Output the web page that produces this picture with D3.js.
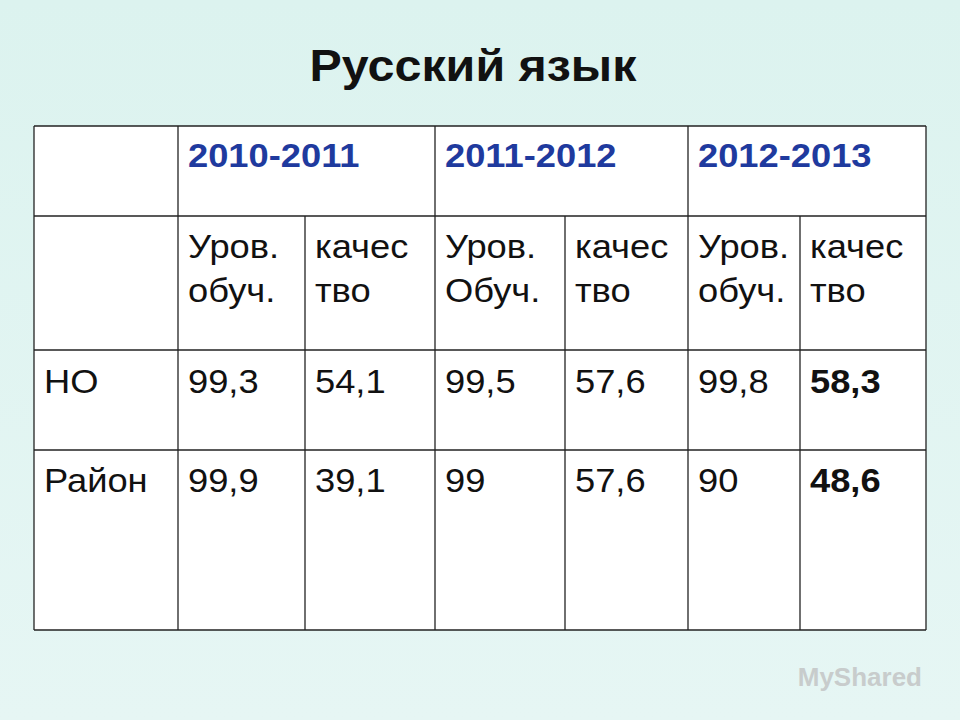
<!DOCTYPE html>
<html><head><meta charset="utf-8">
<script src="https://cdn.jsdelivr.net/npm/d3@7"></script>
<style>body{margin:0;background:#e0f4f1}</style>
</head><body>
<script>
var w = 960, h = 720;

// data
var title = "Русский язык";
var years = ["2010-2011", "2011-2012", "2012-2013"];
var subHeads = [["Уров.", "обуч."], ["качес", "тво"], ["Уров.", "Обуч."], ["качес", "тво"], ["Уров.", "обуч."], ["качес", "тво"]];
var rowNames = ["НО", "Район"];
var rowNO = ["99,3", "54,1", "99,5", "57,6", "99,8", "58,3"];
var rowRayon = ["99,9", "39,1", "99", "57,6", "90", "48,6"];
var rows = [rowNO, rowRayon];

// geometry
var colEdges = [34, 178, 305, 435, 565, 688, 800, 926];
var rowEdges = [126, 216, 350, 450, 630];
var sx = 1.1;

var svg = d3.select("body").append("svg").attr("width", w).attr("height", h);

var grad = svg.append("defs").append("linearGradient").attr("id", "bg")
  .attr("x1", 0).attr("y1", 0).attr("x2", 0).attr("y2", 1);
grad.append("stop").attr("offset", 0).attr("stop-color", "#dcf3ef");
grad.append("stop").attr("offset", 1).attr("stop-color", "#e6f6f4");
svg.append("rect").attr("width", w).attr("height", h).attr("fill", "url(#bg)");

function txt(parent, x, y, t, f, fill, anchor) {
  return parent.append("text").attr("x", 0).attr("y", 0)
    .attr("transform", "translate(" + x + "," + y + ") scale(" + sx + ",1)")
    .attr("text-anchor", anchor || "start")
    .style("font", f).attr("fill", fill).text(t);
}

txt(svg, 473, 81, title, "bold 44px 'Liberation Sans', Arial", "#111", "middle");

var g = svg.append("g");
g.append("rect").attr("x", colEdges[0]).attr("y", rowEdges[0])
  .attr("width", colEdges[7] - colEdges[0]).attr("height", rowEdges[4] - rowEdges[0])
  .attr("fill", "#fff");

var line = function (x1, y1, x2, y2) {
  g.append("line").attr("x1", x1).attr("y1", y1).attr("x2", x2).attr("y2", y2)
    .attr("stroke", "#222").attr("stroke-width", 1.3);
};
rowEdges.forEach(function (y) { line(colEdges[0], y, colEdges[7], y); });
colEdges.forEach(function (x, i) {
  var top = (i == 2 || i == 4 || i == 6) ? rowEdges[1] : rowEdges[0];
  line(x, top, x, rowEdges[4]);
});

var font = "33px 'Liberation Sans', Arial";
years.forEach(function (y, i) {
  txt(g, colEdges[1 + 2 * i] + 10, 167, y, "bold 33px 'Liberation Sans', Arial", "#1f3a9e");
});
subHeads.forEach(function (s, i) {
  s.forEach(function (t, j) {
    txt(g, colEdges[1 + i] + 10, 258 + j * 44, t, font, "#111");
  });
});
rows.forEach(function (r, k) {
  var y = [393, 492][k];
  txt(g, colEdges[0] + 10, y, rowNames[k], font, "#111");
  r.forEach(function (v, i) {
    txt(g, colEdges[1 + i] + 10, y, v, (i == 5 ? "bold " : "") + font, "#111");
  });
});

svg.append("text").attr("x", 922).attr("y", 686).attr("text-anchor", "end")
  .style("font", "bold 26px 'Liberation Sans', Arial").attr("fill", "#c8cccc").text("MyShared");
</script>
</body></html>
